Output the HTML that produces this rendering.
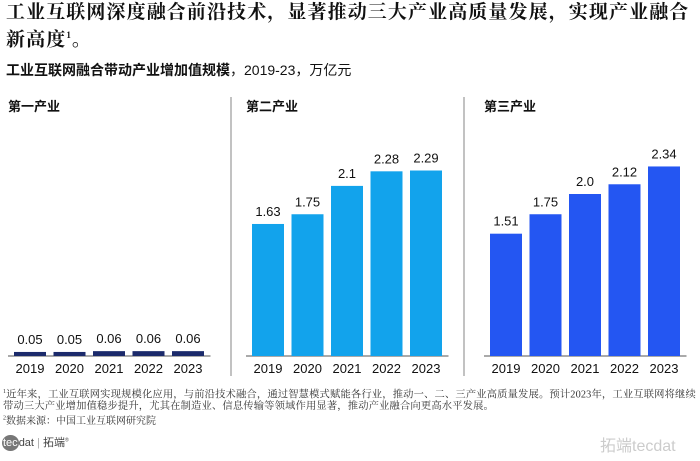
<!DOCTYPE html>
<html><head><meta charset="utf-8"><style>
body{margin:0;background:#fff;width:700px;height:461px;overflow:hidden;font-family:"Liberation Sans","Noto Sans CJK SC",sans-serif;}
.t{position:absolute;color:#111;}
</style></head><body>
<div class="t" style="left:6px;top:2px;width:694px;font-size:19px;line-height:22px;font-weight:bold;letter-spacing:1.1px;font-family:'Liberation Serif','Noto Serif CJK SC',serif">工业互联网深度融合前沿技术，显著推动三大产业高质量发展，实现产业融合新高度<sup style="font-size:9px">1</sup>。</div>
<div class="t" style="left:6px;top:60px;font-size:14px;font-weight:bold">工业互联网融合带动产业增加值规模<span style="font-weight:normal">，2019-23，万亿元</span></div>
<svg id="c" width="700" height="461" style="position:absolute;left:0;top:0"></svg>
<div class="t" style="left:3px;top:386px;font-size:10.3px;line-height:12px;color:#333;width:697px;letter-spacing:0.15px;font-family:'Liberation Serif','Noto Serif CJK SC',serif"><sup style="font-size:6px">1</sup>近年来，工业互联网实现规模化应用，与前沿技术融合，通过智慧模式赋能各行业，推动一、二、三产业高质量发展。预计2023年，工业互联网将继续带动三大产业增加值稳步提升，尤其在制造业、信息传输等领域作用显著，推动产业融合向更高水平发展。</div>
<div class="t" style="left:3px;top:412px;font-size:10px;color:#333;font-family:'Liberation Serif','Noto Serif CJK SC',serif"><sup style="font-size:6px">2</sup>数据来源：中国工业互联网研究院</div>
<div class="t" style="left:2px;top:434px;font-size:11px;color:#444"><span style="background:#777;color:#fff;border-radius:50%;padding:2px 1px">tec</span>dat <span style="color:#aaa">|</span> 拓端<sup style="font-size:5px">®</sup></div>
<div class="t" style="left:600px;top:432px;font-size:16px;color:#ccc">拓端tecdat</div>
<script>
const years=["2019","2020","2021","2022","2023"];
const panelNames=["第一产业","第二产业","第三产业"];
const primary=[0.05,0.05,0.06,0.06,0.06];
const secondary=[1.63,1.75,2.1,2.28,2.29];
const tertiary=[1.51,1.75,2.0,2.12,2.34];
const labels=[["0.05","0.05","0.06","0.06","0.06"],["1.63","1.75","2.1","2.28","2.29"],["1.51","1.75","2.0","2.12","2.34"]];
const series=[primary,secondary,tertiary];
const colors=["#1b2a6b","#12a3ec","#2456f2"];
const svg=document.getElementById('c');const NS="http://www.w3.org/2000/svg";
const base=356,scale=81;
const y=v=>base-v*scale;
const panelX=[14,252,490],step=39.5,bw=32;
function mk(t,a){const e=document.createElementNS(NS,t);for(const k in a)e.setAttribute(k,a[k]);svg.appendChild(e);return e;}
[231,464].forEach((x,i)=>{const l=mk('line',{x1:x,x2:x,y1:97,y2:376,stroke:'#999','stroke-width':1.2});

});
series.forEach((s,p)=>{
 const px=panelX[p];
 const h=mk('text',{x:px-6,y:111,'font-size':13,'font-weight':'bold',fill:'#111'});h.textContent=panelNames[p];
 
 
 const bl=mk('line',{x1:px-6,x2:px+5*step-1,y1:base,y2:base,stroke:'#555','stroke-width':1});
 
 
 s.forEach((v,i)=>{
  const x=px+i*step;
  const r=mk('rect',{x:x,y:y(v),width:bw,height:base-y(v),fill:colors[p]});
  
  
  const t=mk('text',{x:x+bw/2,y:y(v)-8,'text-anchor':'middle','font-size':13,fill:'#111'});t.textContent=labels[p][i];
  
  
  const yl=mk('text',{x:x+bw/2,y:373,'text-anchor':'middle','font-size':13,fill:'#111'});yl.textContent=years[i];
  
  
 });
});
</script>
</body></html>
